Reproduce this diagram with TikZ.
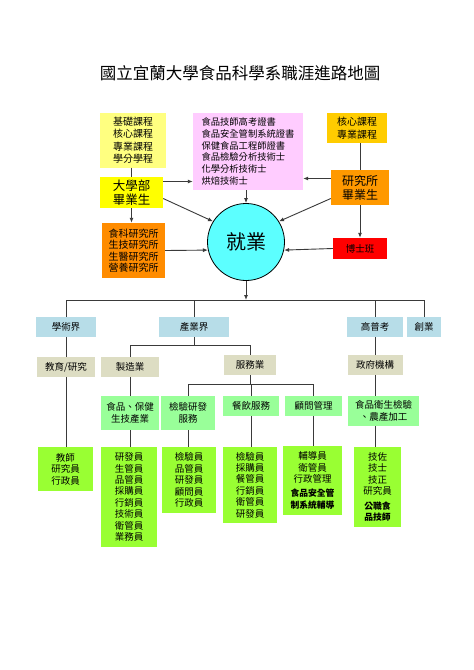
\documentclass[tikz,border=0pt]{standalone}
\usepackage{fontspec}
\setmainfont{Noto Sans CJK TC}
\usetikzlibrary{arrows.meta}
\newcommand\fs[2]{\fontsize{#1}{#2}\selectfont}
\newcommand\smb[1]{{\fs{8.8}{10.5}\bfseries #1}}
\definecolor{cLY}{HTML}{FFFF80}
\definecolor{cY}{HTML}{FFFF00}
\definecolor{cOr}{HTML}{FF8C00}
\definecolor{cOr2}{HTML}{FF9900}
\definecolor{cGold}{HTML}{FFCC00}
\definecolor{cPink}{HTML}{FFCCFF}
\definecolor{cRed}{HTML}{FF0000}
\definecolor{cCyan}{HTML}{5CFFFF}
\definecolor{cL1}{HTML}{B7DDE8}
\definecolor{cL2}{HTML}{DDDDC3}
\definecolor{cL3}{HTML}{99FF99}
\definecolor{cL4}{HTML}{99FF33}
\definecolor{cLine}{HTML}{3A3A3A}
\begin{document}
\begin{tikzpicture}[x=1pt,y=-1pt,
  box/.style={inner sep=0pt, align=center, font=\fs{9.5}{11.4}},
  lv1/.style={box, fill=cL1, minimum height=20pt},
  lv2/.style={box, fill=cL2, minimum height=20pt},
  lv3/.style={box, fill=cL3},
  lv4/.style={box, fill=cL4},
  ln/.style={draw=cLine, line width=0.9pt},
  arr/.style={ln, -{Latex[length=5pt,width=4pt]}}]
\useasboundingbox[fill=white] (0,0) rectangle (474,670);

\node[font=\fs{16.5}{18}] (title) at (240,73) {國立宜蘭大學食品科學系職涯進路地圖};

% top section
\node[box, fill=cLY, minimum width=66pt, minimum height=55pt, font=\fs{10}{12.5}] (courses) at (133,140) {基礎課程\\核心課程\\專業課程\\學分學程};
\node[box, fill=cY, minimum width=63pt, minimum height=31pt, font=\fs{12.5}{14.5}] (ug) at (131.5,192.5) {大學部\\畢業生};
\node[box, fill=cOr, minimum width=63pt, minimum height=55pt, font=\fs{10}{11.5}] (gs) at (133.5,250.5) {食科研究所\\生技研究所\\生醫研究所\\營養研究所};
\node[box, fill=cPink, minimum width=110pt, minimum height=77pt, align=left, font=\fs{9.3}{11.7}] (cert) at (248,151.5) {食品技師高考證書\\食品安全管制系統證書\\保健食品工程師證書\\食品檢驗分析技術士\\化學分析技術士\\烘焙技術士};
\node[box, fill=cGold, minimum width=60pt, minimum height=30pt, font=\fs{10}{12.5}] (gcourses) at (357,128) {核心課程\\專業課程};
\node[box, fill=cOr2, minimum width=58pt, minimum height=35pt, font=\fs{12}{14}] (grad) at (360,187.5) {研究所\\畢業生};
\node[box, fill=cRed, minimum width=54pt, minimum height=21pt, font=\fs{9.5}{11}] (phd) at (360,248.5) {博士班};
\node[circle, draw=black, line width=0.8pt, fill=cCyan, minimum size=77pt, inner sep=0pt, font=\fs{20}{22}] (job) at (246,242) {就業};

\draw[ln] (ug.north |- courses.south) -- (ug.north);
\draw[arr] (ug.south) -- (ug.south |- gs.north);
\draw[arr] ([yshift=11pt]ug.east) coordinate (a1) -- (cert.west |- a1);
\draw[arr] ([yshift=-6pt]ug.east) -- (job.148);
\draw[arr] (gs.east) -- (job.192);
\draw[arr] (job.north |- cert.south) -- (job.north);
\draw[ln] (gcourses.south -| grad.north) -- (grad.north);
\draw[arr] ([yshift=9pt]grad.west) coordinate (a2) -- (cert.east |- a2);
\draw[arr] ([yshift=-11pt]grad.west) -- (job.32);
\draw[arr] (grad.south) -- (phd.north);
\draw[arr] (phd.west) -- (job.348);

% level 1
\coordinate (bus) at (246,300);
\node[lv1, minimum width=60pt] (acad) at (66,327) {學術界};
\node[lv1, minimum width=70pt] (ind) at (194,327) {產業界};
\node[lv1, minimum width=56pt] (exam) at (375,327) {高普考};
\node[lv1, minimum width=34pt] (entre) at (424,327) {創業};
\draw[arr] (job.south) -- (bus);
\draw[ln] (acad.north) -- (acad.north |- bus) -- (entre.north |- bus) -- (entre.north);
\draw[ln] (ind.north |- bus) -- (ind.north);
\draw[ln] (exam.north |- bus) -- (exam.north);

% level 2
\node[lv2, minimum width=58pt] (edu) at (66,367) {教育/研究};
\node[lv2, minimum width=58pt] (mfg) at (130,367) {製造業};
\node[lv2, minimum width=52pt] (svc) at (250,365) {服務業};
\node[lv2, minimum width=55pt] (gov) at (375,365) {政府機構};
\coordinate (indbus) at (194,345);
\draw[ln] (acad.south) -- (edu.north);
\draw[ln] (ind.south) -- (indbus);
\draw[ln] (mfg.north) -- (mfg.north |- indbus) -- (svc.north |- indbus) -- (svc.north);
\draw[ln] (exam.south) -- (gov.north);

% level 3
\node[lv3, minimum width=58pt, minimum height=34pt] (food) at (130,413) {食品、保健\\生技產業};
\node[lv3, minimum width=54pt, minimum height=34pt] (insp) at (188,413) {檢驗研發\\服務};
\node[lv3, minimum width=56pt, minimum height=20pt] (cater) at (251,406) {餐飲服務};
\node[lv3, minimum width=57pt, minimum height=20pt] (consult) at (313.5,406) {顧問管理};
\node[lv3, minimum width=71pt, minimum height=30pt] (hyg) at (383.5,411) {食品衛生檢驗\\、農產加工};
\coordinate (svcbus) at (250,384);
\draw[ln] (mfg.south) -- (food.north);
\draw[ln] (svc.south) -- (svcbus);
\draw[ln] (insp.north) -- (insp.north |- svcbus) -- (consult.north |- svcbus) -- (consult.north);
\draw[ln] (cater.north |- svcbus) -- (cater.north);
\draw[ln] (gov.south) -- (gov.south |- hyg.north);

% level 4
\node[lv4, minimum width=55pt, minimum height=44pt] (j1) at (65.5,469) {教師\\研究員\\行政員};
\node[lv4, minimum width=56pt, minimum height=100pt] (j2) at (129,497) {研發員\\生管員\\品管員\\採購員\\行銷員\\技術員\\衛管員\\業務員};
\node[lv4, minimum width=54pt, minimum height=66pt] (j3) at (189,480) {檢驗員\\品管員\\研發員\\顧問員\\行政員};
\node[lv4, minimum width=54pt, minimum height=76pt] (j4) at (250,485) {檢驗員\\採購員\\餐管員\\行銷員\\衛管員\\研發員};
\node[lv4, minimum width=59pt, minimum height=69pt] (j5) at (312.5,480.5) {輔導員\\衛管員\\行政管理\\[3pt]\smb{食品安全管}\\\smb{制系統輔導}};
\node[lv4, minimum width=47pt, minimum height=80pt] (j6) at (377.5,487) {技佐\\技士\\技正\\研究員\\[3pt]\smb{公職食}\\\smb{品技師}};
\draw[ln] (edu.south) -- (edu.south |- j1.north);
\draw[ln] (food.south) -- (food.south |- j2.north);
\draw[ln] (insp.south) -- (insp.south |- j3.north);
\draw[ln] (cater.south) -- (cater.south |- j4.north);
\draw[ln] (consult.south) -- (consult.south |- j5.north);
\draw[ln] (gov.south |- hyg.south) -- (gov.south |- j6.north);
\end{tikzpicture}
\end{document}
